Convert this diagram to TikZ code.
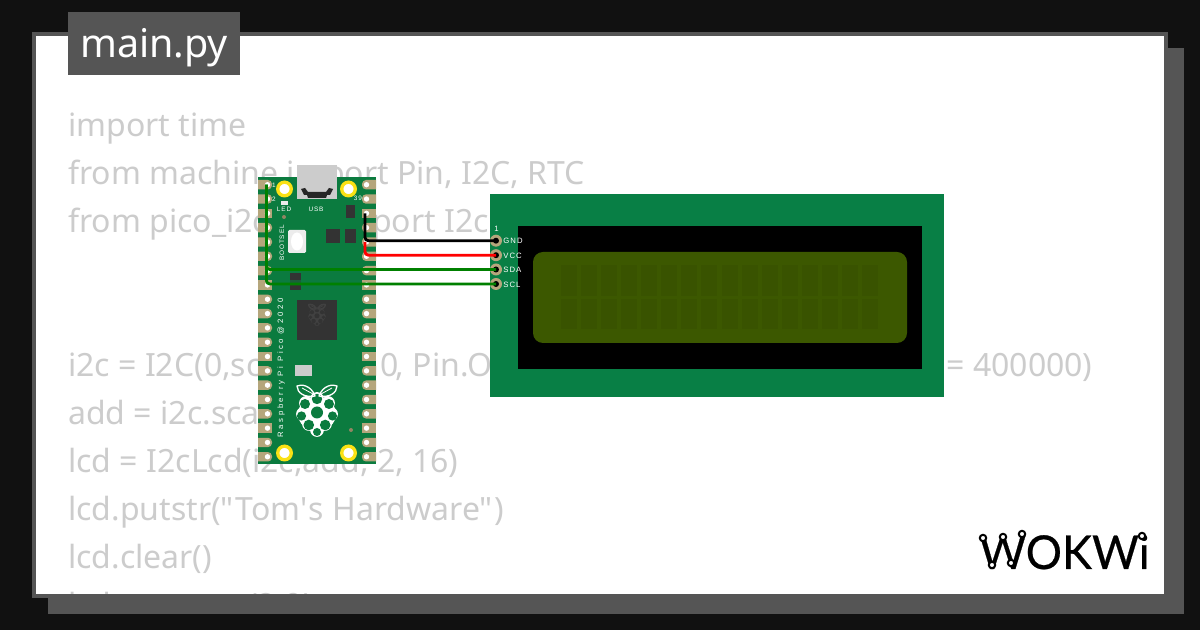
\documentclass[tikz,border=0pt]{standalone}
\usepackage{fontspec}
\setmainfont{Noto Sans}
\newfontfamily\codefont{Noto Sans}
\newfontfamily\pcbfont[LetterSpace=14]{Liberation Sans}
\newfontfamily\pcbwide[LetterSpace=34]{Liberation Sans}
\newfontfamily\wokfont[FakeBold=0.5]{Lato}
\definecolor{bgdark}{HTML}{111111}
\definecolor{framegray}{HTML}{555555}
\definecolor{codegray}{HTML}{CCCCCC}
\definecolor{boardgreen}{HTML}{0B7B3F}
\definecolor{lcdgreen}{HTML}{087F45}
\definecolor{screengreen}{HTML}{3C5800}
\definecolor{cellgreen}{HTML}{395300}
\definecolor{padtan}{HTML}{B5A67C}
\definecolor{chipdark}{HTML}{333333}
\definecolor{wiregreen}{HTML}{008000}
\tikzset{
  codeline/.style={anchor=base west,inner sep=0pt,text=codegray,font=\codefont\fontsize{24pt}{24pt}\selectfont},
  pcblabel/.style={inner sep=0pt,text=white,font=\pcbfont\fontsize{4.8pt}{5pt}\selectfont},
  lcdlabel/.style={anchor=west,inner sep=0pt,text=white,font=\pcbfont\fontsize{5.8pt}{6pt}\selectfont},
  lcdpad/.style={circle,fill=padtan,minimum size=9pt,inner sep=0pt},
  wirepath/.style={line width=2.1pt,rounded corners=2.5pt},
  darkpart/.style={fill=chipdark,draw=none},
  holeyellow/.style={fill=white,draw={rgb,255:red,250;green,225;blue,20},line width=2.5pt},
}
\newcommand{\rasplogo}[3]{%
\begin{scope}[scale=#3]
  \foreach \px/\py in {0/-14,-11/-10,11/-10,0/-1,-14/1,14/1,-8/11,8/11,0/17}
    \fill[#1] (\px,\py) circle (6.9);
  \fill[#1] (0,1) ellipse (19 and 17);
  \foreach \px/\py/\pr in {0/-14/5.2,-12/-9/5,12/-9/5,0/-0.5/6,-15.5/3/4.6,15.5/3/4.6,-8.2/12/5.3,8.2/12/5.3,0/19/4}
    \fill[#2] (\px,\py) circle (\pr);
  \draw[#1,line width=1pt,line join=round] (-2,-17) .. controls (-6,-28) and (-16,-29) .. (-20,-27) .. controls (-20,-20) and (-12,-15) .. cycle;
  \draw[#1,line width=1pt,line join=round] (2,-17) .. controls (6,-28) and (16,-29) .. (20,-27) .. controls (20,-20) and (12,-15) .. cycle;
  \draw[#1,line width=0.6pt] (-4,-19) -- (-15,-25);
  \draw[#1,line width=0.6pt] (4,-19) -- (15,-25);
\end{scope}}
\begin{document}
\begin{tikzpicture}[x=0.75pt,y=-0.75pt]
\useasboundingbox (0,0) rectangle (1200,630);
\fill[bgdark] (0,0) rectangle (1200,630);
\fill[framegray] (48,48) rectangle (1184,614);
\fill[framegray] (32,32) rectangle (1168,598);
\fill[white] (36,36) rectangle (1164,594);
\begin{scope}
  \clip (36,36) rectangle (1164,594);
  \node[codeline] (code1) at (68,137) {import time};
  \node[codeline] (code2) at (68,185) {from machine import Pin, I2C, RTC};
  \node[codeline] (code3) at (68,233) {from pico\_i2c\_lcd import I2cLcd};
  \node[codeline] (code4) at (68,377) {i2c = I2C(0,scl = Pin(10\hspace{-2pt}, Pin.OUT), sda = \hspace{5pt}Pin(0, Pin.OUT),freq= 400000)};
  \node[codeline] (code5) at (68,425) {add = i2c.scan()[0]};
  \node[codeline] (code6) at (68,473) {lcd = I2cLcd(i2c,add, 2, 16)};
  \node[codeline] (code7) at (68,521) {lcd.putstr("\hspace{1.2pt}Tom'\hspace{1.2pt}s Hardware"\hspace{1.2pt})};
  \node[codeline] (code8) at (68,569) {lcd.clear()};
  \node[codeline] (code9) at (68,617) {lcd.move\_to(2,0)};
\end{scope}
\fill[framegray] (68,12) rectangle (240,75);
\node[anchor=base west,inner sep=0pt,text=white,font=\fontsize{29.6pt}{30pt}\selectfont] (title) at (80,58) {main.py};
% --- Pico board
\fill[boardgreen] (258,177) rectangle (376,464);
\begin{scope}
\clip (258,177) rectangle (376,464);
\foreach \i in {1,...,20}{
  \pgfmathsetmacro{\yy}{184.7+(\i-1)*14.32}
  \pgfmathtruncatemacro{\sq}{mod(\i,5)==3 ? 1 : 0}
  \ifnum\sq=1
    \fill[padtan] (258,\yy-4.7) rectangle (272,\yy+4.7);
    \fill[padtan] (362,\yy-4.7) rectangle (376,\yy+4.7);
  \else
    \fill[padtan,rounded corners=3pt] (252,\yy-4.7) rectangle (272,\yy+4.7);
    \fill[padtan,rounded corners=3pt] (362,\yy-4.7) rectangle (382,\yy+4.7);
  \fi
  \fill[white] (267.5,\yy) circle (2.7);
  \fill[white] (366.5,\yy) circle (2.7);
}
\end{scope}
\foreach \i in {1,...,20}{
  \pgfmathsetmacro{\yy}{184.7+(\i-1)*14.32}
  \coordinate (pl\i) at (266.5,\yy);
  \coordinate (pr\i) at (365,\yy);
}
% USB
\fill[codegray] (297,165) rectangle (337,199);
\fill[black!85] (301,189) -- (305,188) -- (308,192) -- (326,192) -- (329,188) -- (333,189) -- (330,195) -- (327,195) -- (326,198) -- (308,198) -- (307,195) -- (304,195) -- cycle;
% mounting holes
\foreach \hx/\hy/\hn in {284.5/189/a,348.5/189/b,284.5/453/c,348.5/453/d}
  \draw[holeyellow] (\hx,\hy) circle (6.8);
% small parts
\fill[white!85!gray] (281,201) rectangle (288,205);
\fill[padtan!80!black] (284,217) circle (2);
\fill[padtan!80!black] (351,430) circle (2);
\fill[white!85!gray,rounded corners=1pt] (288,230) rectangle (306,253);
\fill[white] (297,241.5) ellipse (6 and 9);
\fill[darkpart] (346,205) rectangle (355,218);
\fill[darkpart] (326,229) rectangle (340,243);
\fill[darkpart] (345,229) rectangle (356,243);
\fill[darkpart] (290,273) rectangle (301,290);
\fill[boardgreen!60!chipdark] (290,280) rectangle (301,283);
\fill[darkpart] (297,300) rectangle (337,340);
\begin{scope}[shift={(317,316)}]
  \rasplogo{chipdark!93!white}{chipdark}{0.42}
\end{scope}
\fill[codegray] (295,365) rectangle (312,376);
\begin{scope}[shift={(317,413)}]
  \rasplogo{white}{boardgreen}{1}
\end{scope}
% Pico labels
\node[pcblabel] (lbl1) at (274,185) {1};
\node[pcblabel] (lbl2) at (274,199) {2};
\node[pcblabel] (lbl39) at (358,198) {39};
\node[pcblabel] (lblLED) at (284,209) {LED};
\node[pcblabel] (lblUSB) at (316,209) {USB};
\node[pcblabel,rotate=90] (lblBOOT) at (282,243) {BOOTSEL};
\node[pcblabel,rotate=90,font=\pcbwide\fontsize{5.8pt}{6pt}\selectfont] (lblPico) at (281,368) {Raspberry Pi Pico @2020};
% --- LCD
\fill[lcdgreen] (490,194) rectangle (943.5,397.5);
\fill[black] (518,226) rectangle (922,369);
\fill[screengreen,rounded corners=7.5pt] (533,252) rectangle (907,343);
\foreach \c in {0,...,15}{
  \pgfmathsetmacro{\cx}{561+\c*20.07}
  \fill[cellgreen] (\cx,265) rectangle (\cx+16,296);
  \fill[cellgreen] (\cx,299) rectangle (\cx+16,329.5);
}
\node[lcdpad] (gnd) at (496,240.7) {};
\node[lcdpad] (vcc) at (496,255.2) {};
\node[lcdpad] (sda) at (496,269.5) {};
\node[lcdpad] (scl) at (496,284) {};
\foreach \n in {gnd,vcc,sda,scl} \fill[black] (\n.center) circle (3);
\node[lcdlabel] (lblnum) at (494,229) {1};
\node[lcdlabel] (lblgnd) at (503,241) {GND};
\node[lcdlabel] (lblvcc) at (503,255.5) {VCC};
\node[lcdlabel] (lblsda) at (503,270) {SDA};
\node[lcdlabel] (lblscl) at (503,285) {SCL};
% --- Wires
\draw[wirepath,draw=wiregreen] (pl1) |- (sda.center);
\draw[wirepath,draw=wiregreen] (pl1) |- (scl.center);
\draw[wirepath,draw=black] (pr3) |- (gnd.center);
\draw[wirepath,draw=red] (pr5) |- (vcc.center);
% --- Logo
\node[anchor=base west,inner sep=0pt,text=black,font=\wokfont\fontsize{35pt}{35pt}\selectfont] (logo) at (979,569) {\scalebox{0.97}[1]{WOKWi}};
\foreach \lx/\ly in {983/538,1003/537,1022/534,992/565,1011/563,1142/536}
  \draw[black,fill=white,line width=1.5pt] (\lx,\ly) circle (3.2);
\end{tikzpicture}
\end{document}
